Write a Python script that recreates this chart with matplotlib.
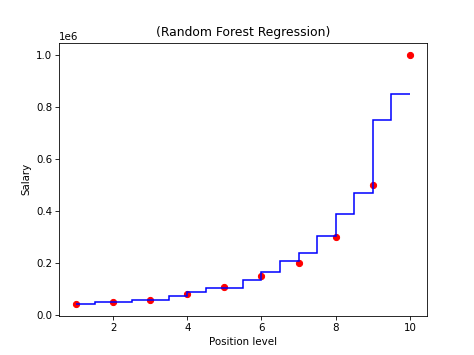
import numpy as np
import matplotlib
matplotlib.use('Agg')
import matplotlib.pyplot as plt

# observed data (Position level vs Salary)
levels = [1, 2, 3, 4, 5, 6, 7, 8, 9, 10]
salaries = [45000, 50000, 60000, 80000, 110000, 150000, 200000, 300000, 500000, 1000000]

# random forest predictions
step_edges = [1, 1.5, 2.5, 3.5, 4, 4.5, 5.5, 6, 6.5, 7, 7.5, 8, 8.5, 9, 9.5, 10]
step_values = [45000, 50000, 59000, 73000, 88000, 104000, 137000, 167000,
               210000, 240000, 304000, 388000, 470000, 750000, 852000]

fig = plt.figure(figsize=(474 / 74, 355 / 74), dpi=74)
plt.scatter(levels, salaries, color='red')
plt.stairs(step_values, step_edges, baseline=None, color='blue', linewidth=1.5)
plt.title('(Random Forest Regression)')
plt.xlabel('Position level')
plt.ylabel('Salary')
plt.margins(0.05)

plt.savefig('out.png', dpi=74)
